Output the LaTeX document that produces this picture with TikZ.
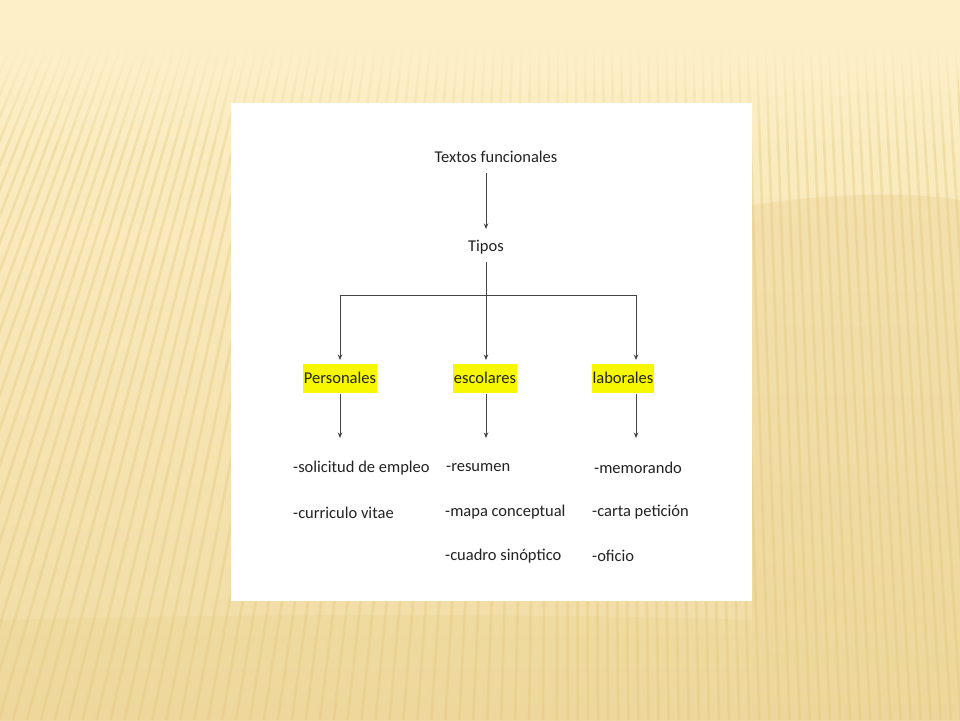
\documentclass[tikz,border=0pt]{standalone}
\usepackage{fontspec}
\setmainfont{Carlito}
\usetikzlibrary{arrows.meta,fadings}
\definecolor{bgtop}{HTML}{FDF0C8}
\definecolor{bgbot}{HTML}{F0DBA2}
\definecolor{stripe}{HTML}{E2C57A}
\definecolor{bgdark}{HTML}{E8CF8E}
\definecolor{txt}{HTML}{222222}
\definecolor{hl}{HTML}{F7F700}
\definecolor{conn}{HTML}{444444}
\tikzfading[name=fadedown, top color=transparent!0, bottom color=transparent!100]
\begin{document}
\begin{tikzpicture}[x=1pt,y=-1pt,
  lbl/.style={text=txt,font=\fontsize{16.5}{18}\selectfont,inner sep=0pt},
  cat/.style={lbl,fill=hl,inner xsep=1pt,minimum height=29pt},
  item/.style={lbl,anchor=west},
  arr/.style={draw=conn,line width=0.9pt,-{Stealth[length=5.5pt,width=4.5pt]}},
  bar/.style={draw=conn,line width=0.9pt}]
\useasboundingbox (0,0) rectangle (960,720);
% background
\shade[top color=bgtop,bottom color=bgbot] (0,0) rectangle (960,720);
\fill[bgdark,opacity=0.35] (752,205) .. controls (820,195) and (900,190) .. (960,200) -- (960,720) -- (752,720) -- cycle;
\fill[bgdark,opacity=0.25] (0,620) .. controls (300,612) and (600,615) .. (752,620) -- (752,720) -- (0,720) -- cycle;
\begin{scope}
\clip (0,30) rectangle (960,720);
\foreach \i in {-10,...,110}{
  \pgfmathsetmacro{\xa}{\i*9}
  \pgfmathsetmacro{\xb}{\xa<560 ? \xa+(\xa-560)*0.55 : \xa+(\xa-560)*0.12}
  \draw[stripe,line width=2.6pt,opacity=0.35] (\xa,30) -- (\xb,720);
}
\end{scope}
\fill[bgtop] (0,0) rectangle (960,40);
\fill[bgtop,path fading=fadedown] (0,39) rectangle (960,150);
% white panel
\fill[white] (231,103) rectangle (752,601);
% nodes
\node[lbl] (tf) at (496,157) {Textos funcionales};
\node[lbl] (tipos) at (486,247) {Tipos};
\node[cat] (pers) at (340,378) {Personales};
\node[cat] (esc) at (485,378) {escolares};
\node[cat] (lab) at (623,378) {laborales};
\node[item] (p1) at (293,468) {-solicitud de empleo};
\node[item] (p2) at (293,513) {-curriculo vitae};
\node[item] (e1) at (446,468) {-resumen};
\node[item] (e2) at (445,512) {-mapa conceptual};
\node[item] (e3) at (445,556) {-cuadro sinóptico};
\node[item] (l1) at (594,468) {-memorando};
\node[item] (l2) at (592,512) {-carta petición};
\node[item] (l3) at (592,556) {-oficio};
% coordinates
\coordinate (tfout) at (486,173);
\coordinate (tipin) at (486,229);
\coordinate (tipout) at (486,262);
\coordinate (jl) at (340,295);
\coordinate (jr) at (636,295);
\coordinate (persin) at (340,360);
\coordinate (escin) at (486,360);
\coordinate (labin) at (636,360);
\coordinate (persout) at (340,394);
\coordinate (escout) at (486,394);
\coordinate (labout) at (636,394);
\coordinate (persd) at (340,438);
\coordinate (escd) at (486,438);
\coordinate (labd) at (636,438);
% connectors
\draw[arr] (tfout) -- (tipin);
\draw[bar] (jl) -- (jr);
\draw[arr] (tipout) -- (escin);
\draw[arr] (jl) -- (persin);
\draw[arr] (jr) -- (labin);
\draw[arr] (persout) -- (persd);
\draw[arr] (escout) -- (escd);
\draw[arr] (labout) -- (labd);
\end{tikzpicture}
\end{document}
